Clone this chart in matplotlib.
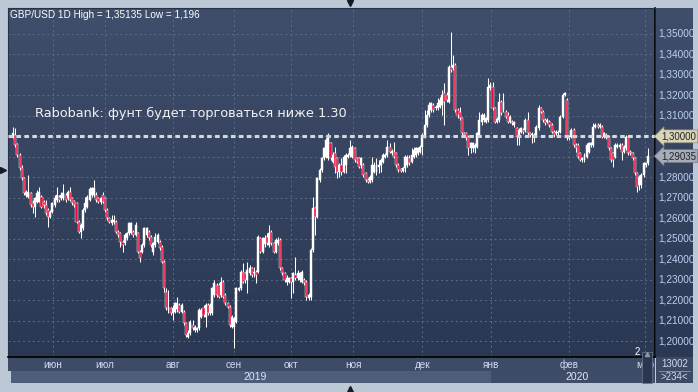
import numpy as np
import matplotlib
matplotlib.use("Agg")
import matplotlib.pyplot as plt
from matplotlib.colors import LinearSegmentedColormap
from matplotlib.patches import Rectangle

# daily GBP/USD candles
opens = [
    1.2998, 1.3007, 1.2961, 1.2909, 1.2844, 1.2795, 1.2714, 1.2705, 1.2722, 1.2673,
    1.2657, 1.2681, 1.2681, 1.2705, 1.2681, 1.2665, 1.2640, 1.2608, 1.2632, 1.2665,
    1.2689, 1.2705, 1.2697, 1.2697, 1.2714, 1.2697, 1.2730, 1.2697, 1.2684, 1.2673,
    1.2583, 1.2534, 1.2551, 1.2640, 1.2657, 1.2689, 1.2714, 1.2714, 1.2714, 1.2697,
    1.2678, 1.2714, 1.2697, 1.2640, 1.2600, 1.2575, 1.2580, 1.2583, 1.2534, 1.2526,
    1.2485, 1.2477, 1.2502, 1.2526, 1.2526, 1.2531, 1.2518, 1.2526, 1.2437, 1.2437,
    1.2469, 1.2518, 1.2534, 1.2510, 1.2437, 1.2469, 1.2485, 1.2485, 1.2461, 1.2388,
    1.2240, 1.2152, 1.2160, 1.2135, 1.2144, 1.2155, 1.2176, 1.2144, 1.2144, 1.2087,
    1.2021, 1.2038, 1.2079, 1.2054, 1.2054, 1.2062, 1.2119, 1.2160, 1.2119, 1.2176,
    1.2135, 1.2135, 1.2225, 1.2274, 1.2274, 1.2225, 1.2290, 1.2225, 1.2184, 1.2168,
    1.2070, 1.2070, 1.2095, 1.2250, 1.2258, 1.2339, 1.2331, 1.2298, 1.2331, 1.2355,
    1.2331, 1.2339, 1.2339, 1.2502, 1.2437, 1.2474, 1.2510, 1.2469, 1.2534, 1.2477,
    1.2437, 1.2477, 1.2494, 1.2355, 1.2331, 1.2290, 1.2290, 1.2306, 1.2290, 1.2323,
    1.2306, 1.2298, 1.2290, 1.2298, 1.2290, 1.2209, 1.2217, 1.2445, 1.2648, 1.2608,
    1.2787, 1.2836, 1.2893, 1.2901, 1.2893, 1.2966, 1.2876, 1.2917, 1.2893, 1.2827,
    1.2860, 1.2827, 1.2860, 1.2901, 1.2909, 1.2901, 1.2941, 1.2893, 1.2893, 1.2860,
    1.2860, 1.2819, 1.2787, 1.2779, 1.2787, 1.2827, 1.2827, 1.2852, 1.2860, 1.2876,
    1.2901, 1.2909, 1.2950, 1.2917, 1.2925, 1.2917, 1.2860, 1.2840, 1.2831, 1.2844,
    1.2860, 1.2893, 1.2876, 1.2901, 1.2909, 1.2917, 1.2925, 1.2950, 1.2999, 1.3055,
    1.3104, 1.3129, 1.3153, 1.3137, 1.3137, 1.3145, 1.3153, 1.3210, 1.3202, 1.3169,
    1.3337, 1.3332, 1.3349, 1.3129, 1.3121, 1.3088, 1.3015, 1.3015, 1.2999, 1.2941,
    1.2941, 1.2941, 1.2950, 1.3007, 1.3072, 1.3080, 1.3072, 1.3080, 1.3235, 1.3243,
    1.3137, 1.3072, 1.3080, 1.3169, 1.3129, 1.3121, 1.3104, 1.3072, 1.3072, 1.3055,
    1.3039, 1.2998, 1.3023, 1.3031, 1.3031, 1.3080, 1.3015, 1.3005, 1.3007, 1.3007,
    1.3039, 1.3137, 1.3121, 1.3080, 1.3072, 1.3072, 1.3055, 1.3023, 1.3015, 1.3015,
    1.3023, 1.3096, 1.3202, 1.3178, 1.2998, 1.2998, 1.3031, 1.2958, 1.2958, 1.2917,
    1.2885, 1.2885, 1.2901, 1.2925, 1.2958, 1.2958, 1.3047, 1.3055, 1.3047, 1.3047,
    1.2998, 1.3007, 1.2998, 1.2942, 1.2917, 1.2901, 1.2950, 1.2947, 1.2958, 1.2925,
    1.2942, 1.2998, 1.2925, 1.2917, 1.2893, 1.2819, 1.2762, 1.2762, 1.2811, 1.2860,
    1.2868]
highs = [
    1.3047, 1.3039, 1.2966, 1.2917, 1.2860, 1.2803, 1.2738, 1.2811, 1.2730, 1.2689,
    1.2705, 1.2738, 1.2754, 1.2714, 1.2689, 1.2689, 1.2648, 1.2640, 1.2681, 1.2714,
    1.2754, 1.2714, 1.2730, 1.2766, 1.2722, 1.2738, 1.2754, 1.2705, 1.2689, 1.2681,
    1.2591, 1.2575, 1.2648, 1.2705, 1.2714, 1.2754, 1.2754, 1.2787, 1.2730, 1.2705,
    1.2705, 1.2730, 1.2705, 1.2648, 1.2608, 1.2616, 1.2616, 1.2591, 1.2542, 1.2534,
    1.2494, 1.2526, 1.2534, 1.2583, 1.2583, 1.2542, 1.2583, 1.2534, 1.2445, 1.2477,
    1.2559, 1.2559, 1.2542, 1.2518, 1.2485, 1.2526, 1.2526, 1.2494, 1.2469, 1.2396,
    1.2258, 1.2250, 1.2168, 1.2176, 1.2192, 1.2217, 1.2184, 1.2184, 1.2152, 1.2095,
    1.2054, 1.2103, 1.2103, 1.2079, 1.2070, 1.2160, 1.2160, 1.2176, 1.2184, 1.2184,
    1.2184, 1.2266, 1.2298, 1.2282, 1.2282, 1.2314, 1.2298, 1.2233, 1.2192, 1.2176,
    1.2127, 1.2119, 1.2266, 1.2266, 1.2347, 1.2380, 1.2339, 1.2388, 1.2371, 1.2363,
    1.2363, 1.2347, 1.2518, 1.2510, 1.2510, 1.2518, 1.2526, 1.2567, 1.2542, 1.2486,
    1.2502, 1.2510, 1.2502, 1.2363, 1.2339, 1.2323, 1.2314, 1.2314, 1.2339, 1.2412,
    1.2347, 1.2339, 1.2347, 1.2306, 1.2298, 1.2233, 1.2453, 1.2705, 1.2656, 1.2803,
    1.2844, 1.2901, 1.2950, 1.2990, 1.3015, 1.2974, 1.2925, 1.2950, 1.2901, 1.2868,
    1.2893, 1.2909, 1.2917, 1.2917, 1.2982, 1.2958, 1.2950, 1.2901, 1.2901, 1.2901,
    1.2868, 1.2827, 1.2795, 1.2811, 1.2901, 1.2876, 1.2893, 1.2884, 1.2893, 1.2917,
    1.2917, 1.2982, 1.2966, 1.2936, 1.2974, 1.2925, 1.2868, 1.2847, 1.2852, 1.2909,
    1.2909, 1.2909, 1.2941, 1.2950, 1.2950, 1.2950, 1.2958, 1.3015, 1.3129, 1.3129,
    1.3166, 1.3169, 1.3161, 1.3153, 1.3186, 1.3194, 1.3226, 1.3259, 1.3218, 1.3349,
    1.3511, 1.3397, 1.3357, 1.3137, 1.3145, 1.3096, 1.3023, 1.3023, 1.3007, 1.2974,
    1.2974, 1.2966, 1.3023, 1.3121, 1.3112, 1.3112, 1.3096, 1.3283, 1.3267, 1.3267,
    1.3145, 1.3096, 1.3210, 1.3178, 1.3210, 1.3129, 1.3121, 1.3104, 1.3080, 1.3076,
    1.3047, 1.3039, 1.3047, 1.3039, 1.3088, 1.3121, 1.3023, 1.3023, 1.3015, 1.3055,
    1.3153, 1.3145, 1.3129, 1.3088, 1.3088, 1.3080, 1.3064, 1.3031, 1.3031, 1.3031,
    1.3104, 1.3210, 1.3218, 1.3186, 1.3007, 1.3039, 1.3039, 1.2966, 1.2966, 1.2925,
    1.2901, 1.2917, 1.2966, 1.2974, 1.2974, 1.3064, 1.3064, 1.3064, 1.3064, 1.3055,
    1.3023, 1.3015, 1.3007, 1.2950, 1.2925, 1.2966, 1.2966, 1.2966, 1.2966, 1.2958,
    1.3007, 1.3007, 1.2933, 1.2925, 1.2901, 1.2827, 1.2811, 1.2819, 1.2876, 1.2868,
    1.2942]
lows = [
    1.2990, 1.2949, 1.2901, 1.2836, 1.2787, 1.2714, 1.2705, 1.2697, 1.2657, 1.2624,
    1.2608, 1.2673, 1.2678, 1.2648, 1.2648, 1.2616, 1.2559, 1.2600, 1.2624, 1.2657,
    1.2681, 1.2681, 1.2689, 1.2689, 1.2681, 1.2689, 1.2684, 1.2665, 1.2657, 1.2575,
    1.2526, 1.2505, 1.2542, 1.2632, 1.2648, 1.2684, 1.2705, 1.2705, 1.2681, 1.2673,
    1.2668, 1.2673, 1.2632, 1.2591, 1.2575, 1.2567, 1.2570, 1.2526, 1.2510, 1.2461,
    1.2437, 1.2469, 1.2494, 1.2518, 1.2521, 1.2510, 1.2515, 1.2429, 1.2388, 1.2429,
    1.2461, 1.2510, 1.2494, 1.2461, 1.2420, 1.2461, 1.2477, 1.2445, 1.2380, 1.2240,
    1.2152, 1.2135, 1.2127, 1.2103, 1.2135, 1.2144, 1.2135, 1.2135, 1.2079, 1.2021,
    1.2013, 1.2030, 1.2054, 1.2046, 1.2046, 1.2054, 1.2111, 1.2119, 1.2070, 1.2127,
    1.2127, 1.2127, 1.2217, 1.2217, 1.2209, 1.2217, 1.2209, 1.2176, 1.2160, 1.2070,
    1.2062, 1.1964, 1.2087, 1.2242, 1.2250, 1.2282, 1.2282, 1.2233, 1.2323, 1.2314,
    1.2314, 1.2282, 1.2331, 1.2429, 1.2429, 1.2461, 1.2469, 1.2461, 1.2469, 1.2429,
    1.2429, 1.2469, 1.2347, 1.2323, 1.2290, 1.2274, 1.2282, 1.2209, 1.2233, 1.2298,
    1.2298, 1.2290, 1.2282, 1.2274, 1.2201, 1.2201, 1.2201, 1.2437, 1.2518, 1.2600,
    1.2779, 1.2828, 1.2885, 1.2893, 1.2885, 1.2884, 1.2868, 1.2819, 1.2795, 1.2803,
    1.2811, 1.2819, 1.2819, 1.2893, 1.2901, 1.2893, 1.2876, 1.2868, 1.2844, 1.2844,
    1.2803, 1.2779, 1.2771, 1.2771, 1.2779, 1.2819, 1.2811, 1.2819, 1.2827, 1.2868,
    1.2893, 1.2901, 1.2917, 1.2909, 1.2893, 1.2852, 1.2827, 1.2824, 1.2824, 1.2827,
    1.2852, 1.2860, 1.2868, 1.2893, 1.2901, 1.2909, 1.2917, 1.2909, 1.2990, 1.3047,
    1.3096, 1.3121, 1.3121, 1.3129, 1.3129, 1.3137, 1.3104, 1.3055, 1.3169, 1.3161,
    1.3316, 1.3324, 1.3121, 1.3088, 1.3080, 1.3007, 1.2999, 1.2982, 1.2909, 1.2917,
    1.2925, 1.2917, 1.2941, 1.2999, 1.3055, 1.3072, 1.3064, 1.3072, 1.3226, 1.3129,
    1.3064, 1.3064, 1.3072, 1.3104, 1.3121, 1.3088, 1.3064, 1.3064, 1.3055, 1.3047,
    1.2958, 1.2958, 1.3015, 1.3011, 1.3023, 1.3007, 1.2998, 1.2966, 1.2974, 1.2998,
    1.3031, 1.3112, 1.3072, 1.3055, 1.3064, 1.3047, 1.3015, 1.2998, 1.3007, 1.3007,
    1.3015, 1.3088, 1.3197, 1.2982, 1.2982, 1.2990, 1.2950, 1.2925, 1.2893, 1.2881,
    1.2877, 1.2877, 1.2893, 1.2917, 1.2950, 1.2950, 1.3039, 1.3039, 1.3039, 1.2990,
    1.2990, 1.2985, 1.2934, 1.2877, 1.2852, 1.2893, 1.2942, 1.2940, 1.2885, 1.2917,
    1.2934, 1.2909, 1.2909, 1.2885, 1.2811, 1.2730, 1.2738, 1.2746, 1.2803, 1.2852,
    1.2860]
closes = [
    1.3015, 1.2958, 1.2909, 1.2844, 1.2795, 1.2722, 1.2730, 1.2730, 1.2665, 1.2657,
    1.2697, 1.2722, 1.2730, 1.2657, 1.2665, 1.2624, 1.2608, 1.2632, 1.2673, 1.2697,
    1.2714, 1.2689, 1.2714, 1.2722, 1.2689, 1.2730, 1.2689, 1.2673, 1.2665, 1.2583,
    1.2534, 1.2567, 1.2640, 1.2673, 1.2705, 1.2743, 1.2746, 1.2746, 1.2689, 1.2681,
    1.2697, 1.2681, 1.2640, 1.2600, 1.2583, 1.2591, 1.2591, 1.2534, 1.2518, 1.2485,
    1.2469, 1.2518, 1.2526, 1.2575, 1.2575, 1.2518, 1.2567, 1.2437, 1.2404, 1.2469,
    1.2551, 1.2551, 1.2502, 1.2469, 1.2477, 1.2510, 1.2518, 1.2453, 1.2388, 1.2260,
    1.2160, 1.2168, 1.2135, 1.2160, 1.2184, 1.2188, 1.2144, 1.2176, 1.2087, 1.2030,
    1.2038, 1.2095, 1.2062, 1.2070, 1.2062, 1.2152, 1.2152, 1.2127, 1.2176, 1.2135,
    1.2176, 1.2258, 1.2282, 1.2225, 1.2217, 1.2290, 1.2217, 1.2184, 1.2168, 1.2079,
    1.2119, 1.2111, 1.2258, 1.2258, 1.2339, 1.2290, 1.2298, 1.2347, 1.2355, 1.2323,
    1.2339, 1.2323, 1.2510, 1.2437, 1.2502, 1.2502, 1.2477, 1.2526, 1.2477, 1.2437,
    1.2494, 1.2494, 1.2355, 1.2331, 1.2298, 1.2306, 1.2306, 1.2290, 1.2331, 1.2306,
    1.2334, 1.2331, 1.2339, 1.2282, 1.2217, 1.2225, 1.2445, 1.2648, 1.2608, 1.2795,
    1.2836, 1.2893, 1.2942, 1.2982, 1.3007, 1.2893, 1.2909, 1.2852, 1.2827, 1.2860,
    1.2827, 1.2901, 1.2909, 1.2909, 1.2941, 1.2950, 1.2884, 1.2876, 1.2852, 1.2893,
    1.2811, 1.2787, 1.2779, 1.2803, 1.2860, 1.2860, 1.2860, 1.2860, 1.2884, 1.2909,
    1.2909, 1.2950, 1.2925, 1.2928, 1.2901, 1.2860, 1.2836, 1.2831, 1.2844, 1.2901,
    1.2901, 1.2868, 1.2909, 1.2933, 1.2941, 1.2941, 1.2950, 1.3007, 1.3055, 1.3104,
    1.3153, 1.3161, 1.3129, 1.3145, 1.3161, 1.3178, 1.3202, 1.3169, 1.3178, 1.3340,
    1.3324, 1.3349, 1.3129, 1.3104, 1.3088, 1.3015, 1.3007, 1.2990, 1.2941, 1.2966,
    1.2966, 1.2958, 1.3015, 1.3080, 1.3104, 1.3104, 1.3088, 1.3243, 1.3251, 1.3137,
    1.3072, 1.3084, 1.3169, 1.3112, 1.3169, 1.3096, 1.3072, 1.3096, 1.3064, 1.3068,
    1.2998, 1.3031, 1.3039, 1.3023, 1.3080, 1.3015, 1.3007, 1.3011, 1.2998, 1.3047,
    1.3137, 1.3121, 1.3080, 1.3064, 1.3080, 1.3055, 1.3023, 1.3007, 1.3023, 1.3023,
    1.3096, 1.3202, 1.3210, 1.2990, 1.2990, 1.3031, 1.2958, 1.2942, 1.2901, 1.2885,
    1.2893, 1.2909, 1.2958, 1.2966, 1.2966, 1.3047, 1.3055, 1.3047, 1.3055, 1.2998,
    1.3015, 1.2995, 1.2942, 1.2885, 1.2885, 1.2958, 1.2958, 1.2958, 1.2925, 1.2950,
    1.2998, 1.2917, 1.2917, 1.2893, 1.2819, 1.2754, 1.2803, 1.2811, 1.2868, 1.2868,
    1.2904]

# month starts as candle index
month_pos = [18.1, 42, 73, 100.8, 127, 155.4, 186.9, 218.5, 253.9, 288.7]
month_labels = ["июн", "июл", "авг", "сен", "окт", "ноя", "дек", "янв", "фев", "мар"]
year_labels = ["2019", "2020"]
year_pos = [110.5, 257.5]
price_ticks = [1.35, 1.34, 1.33, 1.32, 1.31, 1.28, 1.27, 1.26, 1.25, 1.24, 1.23, 1.22, 1.21, 1.20]
level = 1.30
last_price = 1.29035

W, H = 698, 392
fig = plt.figure(figsize=(W / 100, H / 100), dpi=100)
fig.patch.set_facecolor("#bdc8d7")

grad = LinearSegmentedColormap.from_list("bg", ["#3f4e6b", "#2b3853"])
XL = (-2.3, 293.2)
YL = (1.1922, 1.3627)

def px(l, t, w, h):
    return [l / W, 1 - (t + h) / H, w / W, h / H]

# main chart
ax = fig.add_axes(px(8, 8, 647, 349))
ax.set_xlim(*XL)
ax.set_ylim(*YL)
ax.imshow(np.linspace(0, 1, 256).reshape(-1, 1), cmap=grad, aspect="auto",
          extent=[XL[0], XL[1], YL[0], YL[1]], zorder=0)
ax.set_xticks([])
ax.set_yticks([])
for s in ["left", "top"]:
    ax.spines[s].set_color("#27324a")
for s in ["right", "bottom"]:
    ax.spines[s].set_color("black")
    ax.spines[s].set_linewidth(1.2)

grid_kw = dict(color="#5b6b8b", lw=0.7, dashes=(2, 3), zorder=1)
for p in np.arange(1.20, 1.355, 0.01):
    ax.axhline(p, **grid_kw)
for m in month_pos:
    ax.axvline(m, **grid_kw)

o = np.array(opens); h = np.array(highs); l = np.array(lows); c = np.array(closes)
x = np.arange(len(o))
up = c >= o
ax.vlines(x, l, h, color="white", lw=0.75, zorder=3)
body = np.maximum(np.abs(c - o), 0.0003)
ax.bar(x[up], body[up], bottom=np.minimum(o, c)[up], width=0.9,
       color="white", edgecolor="white", lw=0.3, zorder=4)
ax.bar(x[~up], body[~up], bottom=np.minimum(o, c)[~up], width=0.95,
       color="#ee0a3a", edgecolor="white", lw=0.3, zorder=4)

ax.axhline(level, color="#d8d8d8", lw=2.2, dashes=(1.5, 1.1), zorder=5)

# month and year bands under the chart
xt = ax.get_xaxis_transform()
ax.add_patch(Rectangle((XL[0], -0.0401), XL[1] - XL[0], 0.0401, transform=xt,
                       clip_on=False, fc="#3d4b66", ec="none", zorder=0))
ax.add_patch(Rectangle((XL[0] + 1.4, -0.0745), month_pos[7] - XL[0] - 1.4, 0.0344,
                       transform=xt, clip_on=False, fc="#4e5d79", ec="none", zorder=0))
ax.add_patch(Rectangle((month_pos[7], -0.0745), XL[1] - month_pos[7], 0.0344,
                       transform=xt, clip_on=False, fc="#3e4c67", ec="none", zorder=0))
for m, lab in zip(month_pos, month_labels):
    ax.text(m, -0.0215, lab, transform=xt, ha="center", va="center",
            fontsize=7.2, family="Liberation Sans", color="#cfdcf2")
for m, lab in zip(year_pos, year_labels):
    ax.text(m, -0.058, lab, transform=xt, ha="center", va="center",
            fontsize=7.5, family="Liberation Sans", color="#dfe6f2")

ax.text(0.0036, 0.979, "GBP/USD 1D High = 1,35135 Low = 1,196", transform=ax.transAxes,
        ha="left", va="center", fontsize=7.2, family="Liberation Sans", color="white")
ax.text(0.042, 0.698, "Rabobank: фунт будет торговаться ниже 1.30", transform=ax.transAxes,
        ha="left", va="center", fontsize=9.3, family="DejaVu Sans", color="#f2f2f2")

# price scale on the right
pax = fig.add_axes(px(656, 8, 37, 349))
pax.set_xlim(0, 1)
pax.set_ylim(*YL)
pax.imshow(np.linspace(0, 1, 256).reshape(-1, 1), cmap=grad, aspect="auto",
           extent=[0, 1, YL[0], YL[1]], zorder=0)
pax.axis("off")
yt = pax.get_yaxis_transform()
for p in price_ticks:
    pax.text(0.07, p, f"{p:.5f}".replace(".", ","), transform=yt, ha="left", va="center",
             fontsize=7.2, family="Liberation Sans", color="#bcd0f2")
pax.text(0.14, level, f"{level:.5f}".replace(".", ","), transform=yt, ha="left",
         va="center", fontsize=7, family="Liberation Sans", color="#222222",
         bbox=dict(boxstyle="larrow,pad=0.15", fc="#d8d5b9", ec="#8e8c7c", lw=0.5))
pax.text(0.14, last_price, f"{last_price:.5f}".replace(".", ","), transform=yt, ha="left",
         va="center", fontsize=7, family="Liberation Sans", color="#222222",
         bbox=dict(boxstyle="larrow,pad=0.15", fc="#a6adb8", ec="#6f7784", lw=0.5))

# corner box and frame details
ov = fig.add_axes([0, 0, 1, 1], zorder=10)
ov.set_xlim(0, W)
ov.set_ylim(H, 0)
ov.axis("off")
ov.patch.set_alpha(0)
ov.add_patch(Rectangle((656, 357), 37, 26, fc="#3b4964", ec="none"))
ov.plot([659, 690], [370.5, 370.5], color="#8a98b0", lw=0.6)
ov.text(674.5, 364, "13002", ha="center", va="center", fontsize=7,
        family="Liberation Sans", color="#cfdaee")
ov.text(674.5, 377, ">234<", ha="center", va="center", fontsize=7,
        family="Liberation Sans", color="#cfdaee")
ov.add_patch(Rectangle((641.5, 352), 10.5, 31, fc="#2a3550", ec="#6b7891", lw=0.5))
ov.plot([646.5], [354], marker="^", ms=3, color="#8a96aa")
ov.text(637, 352, "2", ha="center", va="center", fontsize=7,
        family="Liberation Sans", color="white")
ov.plot([350], [3], marker="v", ms=5, color="#151a24")
ov.plot([350], [388.5], marker="^", ms=5, color="#151a24")
ov.plot([3], [170], marker=">", ms=5, color="#151a24")

fig.savefig("out.png", dpi=100, facecolor=fig.get_facecolor())
